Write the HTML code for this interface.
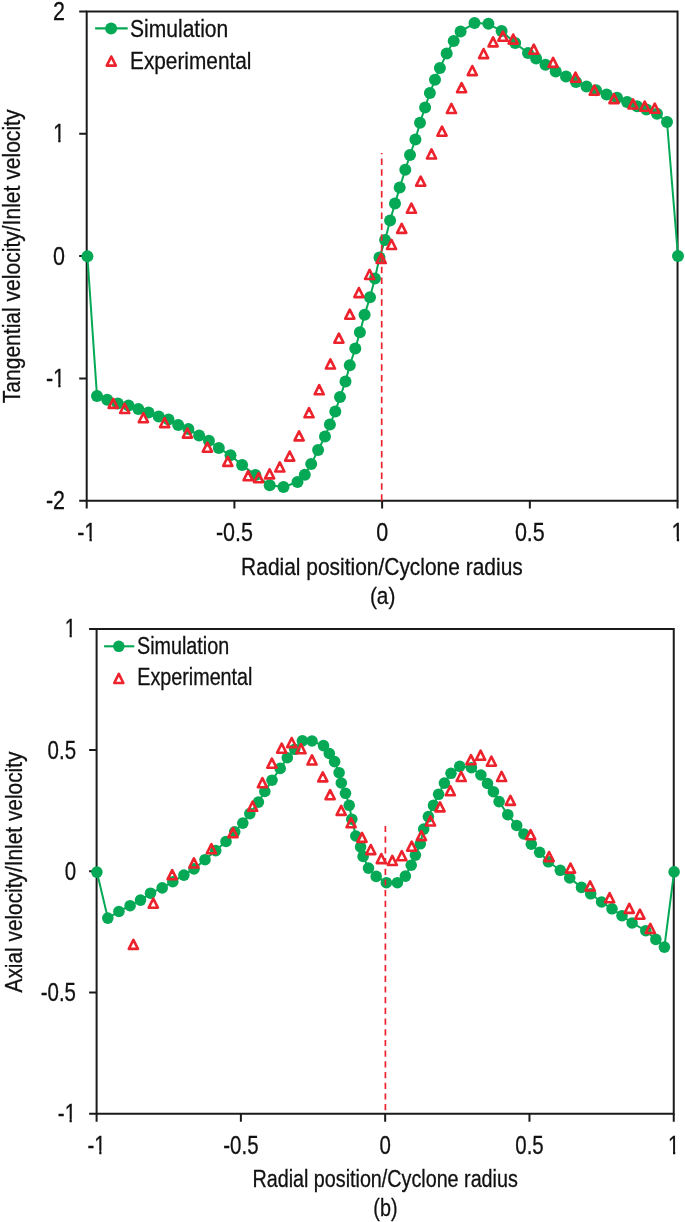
<!DOCTYPE html>
<html><head><meta charset="utf-8"><title>Velocity profiles</title>
<style>
html,body{margin:0;padding:0;background:#fff;}
body{width:685px;height:1222px;overflow:hidden;}
svg{display:block;filter:blur(0.3px);}
text{font-family:"Liberation Sans",Arial,sans-serif;}
</style></head><body>
<svg width="685" height="1222" viewBox="0 0 685 1222">
<rect width="685" height="1222" fill="#fff"/>
<path d="M86.7 11.4H677.55V500.75H86.7Z" fill="none" stroke="#1a1a1a" stroke-width="2"/>
<path d="M79.2 11.4H86.7M79.2 133.74H86.7M79.2 256.07H86.7M79.2 378.41H86.7M79.2 500.75H86.7M86.7 500.75V508.55M234.41 500.75V508.55M382.12 500.75V508.55M529.84 500.75V508.55M677.55 500.75V508.55" stroke="#1a1a1a" stroke-width="2" fill="none"/>
<polyline points="87.4,256.2 97,396.1 107.2,399.7 117.8,403.4 128.5,405.5 138.3,408.9 148.5,412.4 158.7,416.5 168.5,419.4 178.2,424.9 188.4,429 199.1,435.5 208.9,440.7 218.8,448 230.5,455.3 242.1,465.1 255.4,475 269.7,485.3 283.5,487 297.5,482 304.8,474.7 311.2,464.1 318.1,450 325,436.5 329.9,424.6 335.3,411.6 340,397.1 345.5,381.6 349.8,365.2 355.3,348.5 359.9,332.3 364.6,314.8 370,297.3 374.9,278.6 379.5,257.5 385.1,239.9 390.1,220.6 395,203.4 399.7,187.6 405.3,169.8 410,155 415.4,139.5 420,122.7 425.1,107.5 429.9,92.9 435,79.8 439.9,68.1 446.7,53.4 453.7,41 460.6,31.6 474.5,23.1 488.4,23.8 501.6,31.1 515.2,43 528,53.1 536.1,58.4 545.5,64.8 555.7,71.4 566,76.4 576,82 586.5,86.5 596,90.2 606.6,94.4 617,97.8 627.1,102 637.1,106.2 646.4,109.5 657,113.7 667,122 678,256.1" fill="none" stroke="#05A955" stroke-width="2" stroke-linejoin="round"/>
<g fill="#05A955"><circle cx="87.4" cy="256.2" r="6.0"/><circle cx="97" cy="396.1" r="6.0"/><circle cx="107.2" cy="399.7" r="6.0"/><circle cx="117.8" cy="403.4" r="6.0"/><circle cx="128.5" cy="405.5" r="6.0"/><circle cx="138.3" cy="408.9" r="6.0"/><circle cx="148.5" cy="412.4" r="6.0"/><circle cx="158.7" cy="416.5" r="6.0"/><circle cx="168.5" cy="419.4" r="6.0"/><circle cx="178.2" cy="424.9" r="6.0"/><circle cx="188.4" cy="429" r="6.0"/><circle cx="199.1" cy="435.5" r="6.0"/><circle cx="208.9" cy="440.7" r="6.0"/><circle cx="218.8" cy="448" r="6.0"/><circle cx="230.5" cy="455.3" r="6.0"/><circle cx="242.1" cy="465.1" r="6.0"/><circle cx="255.4" cy="475" r="6.0"/><circle cx="269.7" cy="485.3" r="6.0"/><circle cx="283.5" cy="487" r="6.0"/><circle cx="297.5" cy="482" r="6.0"/><circle cx="304.8" cy="474.7" r="6.0"/><circle cx="311.2" cy="464.1" r="6.0"/><circle cx="318.1" cy="450" r="6.0"/><circle cx="325" cy="436.5" r="6.0"/><circle cx="329.9" cy="424.6" r="6.0"/><circle cx="335.3" cy="411.6" r="6.0"/><circle cx="340" cy="397.1" r="6.0"/><circle cx="345.5" cy="381.6" r="6.0"/><circle cx="349.8" cy="365.2" r="6.0"/><circle cx="355.3" cy="348.5" r="6.0"/><circle cx="359.9" cy="332.3" r="6.0"/><circle cx="364.6" cy="314.8" r="6.0"/><circle cx="370" cy="297.3" r="6.0"/><circle cx="374.9" cy="278.6" r="6.0"/><circle cx="379.5" cy="257.5" r="6.0"/><circle cx="385.1" cy="239.9" r="6.0"/><circle cx="390.1" cy="220.6" r="6.0"/><circle cx="395" cy="203.4" r="6.0"/><circle cx="399.7" cy="187.6" r="6.0"/><circle cx="405.3" cy="169.8" r="6.0"/><circle cx="410" cy="155" r="6.0"/><circle cx="415.4" cy="139.5" r="6.0"/><circle cx="420" cy="122.7" r="6.0"/><circle cx="425.1" cy="107.5" r="6.0"/><circle cx="429.9" cy="92.9" r="6.0"/><circle cx="435" cy="79.8" r="6.0"/><circle cx="439.9" cy="68.1" r="6.0"/><circle cx="446.7" cy="53.4" r="6.0"/><circle cx="453.7" cy="41" r="6.0"/><circle cx="460.6" cy="31.6" r="6.0"/><circle cx="474.5" cy="23.1" r="6.0"/><circle cx="488.4" cy="23.8" r="6.0"/><circle cx="501.6" cy="31.1" r="6.0"/><circle cx="515.2" cy="43" r="6.0"/><circle cx="528" cy="53.1" r="6.0"/><circle cx="536.1" cy="58.4" r="6.0"/><circle cx="545.5" cy="64.8" r="6.0"/><circle cx="555.7" cy="71.4" r="6.0"/><circle cx="566" cy="76.4" r="6.0"/><circle cx="576" cy="82" r="6.0"/><circle cx="586.5" cy="86.5" r="6.0"/><circle cx="596" cy="90.2" r="6.0"/><circle cx="606.6" cy="94.4" r="6.0"/><circle cx="617" cy="97.8" r="6.0"/><circle cx="627.1" cy="102" r="6.0"/><circle cx="637.1" cy="106.2" r="6.0"/><circle cx="646.4" cy="109.5" r="6.0"/><circle cx="657" cy="113.7" r="6.0"/><circle cx="667" cy="122" r="6.0"/><circle cx="678" cy="256.1" r="6.0"/></g>
<path d="M113.2 398.8L117.75 407.9L108.65 407.9ZM124.7 403.9L129.25 413L120.15 413ZM143.4 413.1L147.95 422.2L138.85 422.2ZM164.6 418L169.15 427.1L160.05 427.1ZM187.4 428.5L191.95 437.6L182.85 437.6ZM207.4 442.6L211.95 451.7L202.85 451.7ZM227.8 456.8L232.35 465.9L223.25 465.9ZM248.1 471.2L252.65 480.3L243.55 480.3ZM258.6 473.1L263.15 482.2L254.05 482.2ZM269.6 469.3L274.15 478.4L265.05 478.4ZM279.8 462.4L284.35 471.5L275.25 471.5ZM289.7 451.5L294.25 460.6L285.15 460.6ZM299.1 431.3L303.65 440.4L294.55 440.4ZM309 408.2L313.55 417.3L304.45 417.3ZM319.2 385.2L323.75 394.3L314.65 394.3ZM330.4 359.4L334.95 368.5L325.85 368.5ZM338.9 333.6L343.45 342.7L334.35 342.7ZM349.8 309.6L354.35 318.7L345.25 318.7ZM358.9 288L363.45 297.1L354.35 297.1ZM369.6 269.9L374.15 279L365.05 279ZM381.2 253.9L385.75 263L376.65 263ZM391.5 239.9L396.05 249L386.95 249ZM401.7 223.8L406.25 232.9L397.15 232.9ZM411.4 203.7L415.95 212.8L406.85 212.8ZM420.7 176.6L425.25 185.7L416.15 185.7ZM431.5 149.4L436.05 158.5L426.95 158.5ZM442 126.6L446.55 135.7L437.45 135.7ZM451.4 103.9L455.95 113L446.85 113ZM461.6 83.1L466.15 92.2L457.05 92.2ZM472.3 66L476.85 75.1L467.75 75.1ZM483.6 49L488.15 58.1L479.05 58.1ZM493.1 37.3L497.65 46.4L488.55 46.4ZM502.9 31.6L507.45 40.7L498.35 40.7ZM513.2 34.5L517.75 43.6L508.65 43.6ZM533.8 44.7L538.35 53.8L529.25 53.8ZM553.1 57.8L557.65 66.9L548.55 66.9ZM575.5 72.7L580.05 81.8L570.95 81.8ZM594.3 85.6L598.85 94.7L589.75 94.7ZM614 94L618.55 103.1L609.45 103.1ZM633 99.4L637.55 108.5L628.45 108.5ZM644.7 101.6L649.25 110.7L640.15 110.7ZM654.8 103.7L659.35 112.8L650.25 112.8Z" fill="none" stroke="#EC222D" stroke-width="2.6" stroke-linejoin="round"/>
<path d="M381.7 500.7V153" stroke="#EC222D" stroke-width="1.7" stroke-dasharray="6.5 4.33"/>
<path d="M95.1 28.4H127.7" stroke="#05A955" stroke-width="2.1"/>
<circle cx="111.1" cy="28.4" r="6.0" fill="#05A955"/>
<path d="M111.3 56.5L115.85 65.6L106.75 65.6Z" fill="none" stroke="#EC222D" stroke-width="2.6" stroke-linejoin="round"/>
<g fill="#111" stroke="#111" stroke-width="0.3"><g transform="translate(65 19.9) scale(0.827 1)"><text x="-14.46" font-size="26">2</text></g>
<g transform="translate(65 142.24) scale(0.827 1)"><text x="-14.46" font-size="26">1</text><path d="M-13.68 1.5V-3.04H-8.17V1.5ZM-5.37 1.5V-3.04H-0.07V1.5Z" fill="#fff" stroke="none"/></g>
<g transform="translate(65 264.57) scale(0.827 1)"><text x="-14.46" font-size="26">0</text></g>
<g transform="translate(65 386.91) scale(0.827 1)"><text x="-23.12" font-size="26">-1</text><path d="M-13.68 1.5V-3.04H-8.17V1.5ZM-5.37 1.5V-3.04H-0.07V1.5Z" fill="#fff" stroke="none"/></g>
<g transform="translate(65 509.25) scale(0.827 1)"><text x="-23.12" font-size="26">-2</text></g>
<g transform="translate(86.7 540.5) scale(0.827 1)"><text x="-11.56" font-size="26">-1</text><path d="M-2.12 1.5V-3.04H3.39V1.5ZM6.19 1.5V-3.04H11.49V1.5Z" fill="#fff" stroke="none"/></g>
<g transform="translate(234.41 540.5) scale(0.827 1)"><text x="-22.4" font-size="26">-0.5</text></g>
<g transform="translate(382.12 540.5) scale(0.827 1)"><text x="-7.23" font-size="26">0</text></g>
<g transform="translate(529.84 540.5) scale(0.827 1)"><text x="-18.07" font-size="26">0.5</text></g>
<g transform="translate(677.55 540.5) scale(0.827 1)"><text x="-7.23" font-size="26">1</text><path d="M-6.45 1.5V-3.04H-0.94V1.5ZM1.86 1.5V-3.04H7.16V1.5Z" fill="#fff" stroke="none"/></g>
<g transform="translate(382 574.8) scale(0.855 1)"><text x="-164.78" font-size="24.5">Radial position/Cyclone radius</text></g>
<g transform="translate(382.6 604) scale(0.850 1)"><text x="-14.97" font-size="24.5">(a)</text></g>
<g transform="translate(20.2 255.1) rotate(-90) scale(0.860 1)"><text x="-172.27" font-size="24.5">Tangential velocity/Inlet velocity</text></g>
<g transform="translate(130 36.7) scale(0.860 1)"><text x="0" font-size="24.5">Simulation</text></g>
<g transform="translate(130 68.9) scale(0.850 1)"><text x="0" font-size="24.5">Experimental</text></g></g>
<path d="M96.6 628.9H673.75V1113.7H96.6Z" fill="none" stroke="#1a1a1a" stroke-width="2"/>
<path d="M89.1 628.9H96.6M89.1 750.1H96.6M89.1 871.3H96.6M89.1 992.5H96.6M89.1 1113.7H96.6M96.6 1113.7V1121.8M240.89 1113.7V1121.8M385.17 1113.7V1121.8M529.46 1113.7V1121.8M673.75 1113.7V1121.8" stroke="#1a1a1a" stroke-width="2" fill="none"/>
<polyline points="96.9,872.1 107.8,918.1 118.9,911.5 130.1,905.7 140.5,900.1 150.5,893.2 162.2,887.9 172.8,881.7 183.9,875.1 194,868.9 205,859.7 215.7,850.6 226,841.5 234.7,831.8 242.8,823.1 249.8,813.6 258.4,802.1 264.8,791.5 272,780.2 280.2,768.4 287.3,757.7 294.7,749.3 302.4,740.8 312,741 323.5,745.6 329.3,753.5 334.6,761.6 339.1,772.7 341.3,783 345.5,793.3 349.2,805.3 351.8,819.2 355.8,836 360.6,846.9 363.1,856.4 368.5,868.1 376.2,876.4 386.4,882.7 397.4,882.7 405.4,876.1 411.2,865.2 415.4,855.1 420.3,843.8 423.7,829.1 428.4,816.6 433.5,805.4 438.6,794.3 444.4,783.1 451,773.3 459.7,766.3 471.4,767.7 480.9,775 487.5,783.5 493.4,791.7 499.1,801.6 507.8,814.7 516.7,825.5 523.9,834 531.3,844.2 539.6,852.3 548.4,861.8 560.3,870.3 569.7,878 581.5,887.4 590.7,893.8 601.6,902 612,908.8 622,915.7 632.1,923 645.8,930.7 655.8,939.4 664.4,947.1 674.1,871.9" fill="none" stroke="#05A955" stroke-width="2" stroke-linejoin="round"/>
<g fill="#05A955"><circle cx="96.9" cy="872.1" r="5.8"/><circle cx="107.8" cy="918.1" r="5.8"/><circle cx="118.9" cy="911.5" r="5.8"/><circle cx="130.1" cy="905.7" r="5.8"/><circle cx="140.5" cy="900.1" r="5.8"/><circle cx="150.5" cy="893.2" r="5.8"/><circle cx="162.2" cy="887.9" r="5.8"/><circle cx="172.8" cy="881.7" r="5.8"/><circle cx="183.9" cy="875.1" r="5.8"/><circle cx="194" cy="868.9" r="5.8"/><circle cx="205" cy="859.7" r="5.8"/><circle cx="215.7" cy="850.6" r="5.8"/><circle cx="226" cy="841.5" r="5.8"/><circle cx="234.7" cy="831.8" r="5.8"/><circle cx="242.8" cy="823.1" r="5.8"/><circle cx="249.8" cy="813.6" r="5.8"/><circle cx="258.4" cy="802.1" r="5.8"/><circle cx="264.8" cy="791.5" r="5.8"/><circle cx="272" cy="780.2" r="5.8"/><circle cx="280.2" cy="768.4" r="5.8"/><circle cx="287.3" cy="757.7" r="5.8"/><circle cx="294.7" cy="749.3" r="5.8"/><circle cx="302.4" cy="740.8" r="5.8"/><circle cx="312" cy="741" r="5.8"/><circle cx="323.5" cy="745.6" r="5.8"/><circle cx="329.3" cy="753.5" r="5.8"/><circle cx="334.6" cy="761.6" r="5.8"/><circle cx="339.1" cy="772.7" r="5.8"/><circle cx="341.3" cy="783" r="5.8"/><circle cx="345.5" cy="793.3" r="5.8"/><circle cx="349.2" cy="805.3" r="5.8"/><circle cx="351.8" cy="819.2" r="5.8"/><circle cx="355.8" cy="836" r="5.8"/><circle cx="360.6" cy="846.9" r="5.8"/><circle cx="363.1" cy="856.4" r="5.8"/><circle cx="368.5" cy="868.1" r="5.8"/><circle cx="376.2" cy="876.4" r="5.8"/><circle cx="386.4" cy="882.7" r="5.8"/><circle cx="397.4" cy="882.7" r="5.8"/><circle cx="405.4" cy="876.1" r="5.8"/><circle cx="411.2" cy="865.2" r="5.8"/><circle cx="415.4" cy="855.1" r="5.8"/><circle cx="420.3" cy="843.8" r="5.8"/><circle cx="423.7" cy="829.1" r="5.8"/><circle cx="428.4" cy="816.6" r="5.8"/><circle cx="433.5" cy="805.4" r="5.8"/><circle cx="438.6" cy="794.3" r="5.8"/><circle cx="444.4" cy="783.1" r="5.8"/><circle cx="451" cy="773.3" r="5.8"/><circle cx="459.7" cy="766.3" r="5.8"/><circle cx="471.4" cy="767.7" r="5.8"/><circle cx="480.9" cy="775" r="5.8"/><circle cx="487.5" cy="783.5" r="5.8"/><circle cx="493.4" cy="791.7" r="5.8"/><circle cx="499.1" cy="801.6" r="5.8"/><circle cx="507.8" cy="814.7" r="5.8"/><circle cx="516.7" cy="825.5" r="5.8"/><circle cx="523.9" cy="834" r="5.8"/><circle cx="531.3" cy="844.2" r="5.8"/><circle cx="539.6" cy="852.3" r="5.8"/><circle cx="548.4" cy="861.8" r="5.8"/><circle cx="560.3" cy="870.3" r="5.8"/><circle cx="569.7" cy="878" r="5.8"/><circle cx="581.5" cy="887.4" r="5.8"/><circle cx="590.7" cy="893.8" r="5.8"/><circle cx="601.6" cy="902" r="5.8"/><circle cx="612" cy="908.8" r="5.8"/><circle cx="622" cy="915.7" r="5.8"/><circle cx="632.1" cy="923" r="5.8"/><circle cx="645.8" cy="930.7" r="5.8"/><circle cx="655.8" cy="939.4" r="5.8"/><circle cx="664.4" cy="947.1" r="5.8"/><circle cx="674.1" cy="871.9" r="5.8"/></g>
<path d="M133.4 939.8L137.95 948.9L128.85 948.9ZM153.3 898.6L157.85 907.7L148.75 907.7ZM172.2 870.1L176.75 879.2L167.65 879.2ZM193.9 858.4L198.45 867.5L189.35 867.5ZM211.4 844.2L215.95 853.3L206.85 853.3ZM233 828.1L237.55 837.2L228.45 837.2ZM252.6 801.7L257.15 810.8L248.05 810.8ZM262.4 778.2L266.95 787.3L257.85 787.3ZM271.9 758.6L276.45 767.7L267.35 767.7ZM281.7 743.6L286.25 752.7L277.15 752.7ZM291.7 738L296.25 747.1L287.15 747.1ZM301 744.2L305.55 753.3L296.45 753.3ZM312 755.4L316.55 764.5L307.45 764.5ZM322.8 772.3L327.35 781.4L318.25 781.4ZM330.1 790.1L334.65 799.2L325.55 799.2ZM341.2 805.8L345.75 814.9L336.65 814.9ZM351.1 818.2L355.65 827.3L346.55 827.3ZM362 832.8L366.55 841.9L357.45 841.9ZM370.8 845L375.35 854.1L366.25 854.1ZM381.3 854L385.85 863.1L376.75 863.1ZM392.3 855.9L396.85 865L387.75 865ZM401.8 851.1L406.35 860.2L397.25 860.2ZM411.7 841.6L416.25 850.7L407.15 850.7ZM421.4 831L425.95 840.1L416.85 840.1ZM430.5 816.4L435.05 825.5L425.95 825.5ZM440 802.3L444.55 811.4L435.45 811.4ZM450.3 786.2L454.85 795.3L445.75 795.3ZM461.2 771.9L465.75 781L456.65 781ZM471 755.1L475.55 764.2L466.45 764.2ZM480.6 750.7L485.15 759.8L476.05 759.8ZM491.4 756.6L495.95 765.7L486.85 765.7ZM501.6 771.9L506.15 781L497.05 781ZM510.4 795.8L514.95 804.9L505.85 804.9ZM530.6 830.1L535.15 839.2L526.05 839.2ZM549.1 852L553.65 861.1L544.55 861.1ZM570.5 863.5L575.05 872.6L565.95 872.6ZM590.1 881.4L594.65 890.5L585.55 890.5ZM609.6 893.2L614.15 902.3L605.05 902.3ZM629.3 903.8L633.85 912.9L624.75 912.9ZM639.9 909.6L644.45 918.7L635.35 918.7ZM650.3 923.9L654.85 933L645.75 933Z" fill="none" stroke="#EC222D" stroke-width="2.6" stroke-linejoin="round"/>
<path d="M385.4 825.9V1110.6" stroke="#EC222D" stroke-width="1.7" stroke-dasharray="6.2 4.5"/>
<path d="M104.1 646.3H134.3" stroke="#05A955" stroke-width="2.1"/>
<circle cx="118.8" cy="646.3" r="5.8" fill="#05A955"/>
<path d="M118.8 673.9L123.35 683L114.25 683Z" fill="none" stroke="#EC222D" stroke-width="2.6" stroke-linejoin="round"/>
<g fill="#111" stroke="#111" stroke-width="0.3"><g transform="translate(76 637.3) scale(0.802 1)"><text x="-14.18" font-size="25.5">1</text><path d="M-13.44 1.5V-3.01H-8.02V1.5ZM-5.27 1.5V-3.01H-0.05V1.5Z" fill="#fff" stroke="none"/></g>
<g transform="translate(76 758.5) scale(0.802 1)"><text x="-35.45" font-size="25.5">0.5</text></g>
<g transform="translate(76 879.7) scale(0.802 1)"><text x="-14.18" font-size="25.5">0</text></g>
<g transform="translate(76 1000.9) scale(0.802 1)"><text x="-43.94" font-size="25.5">-0.5</text></g>
<g transform="translate(76 1122.1) scale(0.802 1)"><text x="-22.67" font-size="25.5">-1</text><path d="M-13.44 1.5V-3.01H-8.02V1.5ZM-5.27 1.5V-3.01H-0.05V1.5Z" fill="#fff" stroke="none"/></g>
<g transform="translate(96.6 1153.6) scale(0.802 1)"><text x="-11.34" font-size="25.5">-1</text><path d="M-2.1 1.5V-3.01H3.32V1.5ZM6.07 1.5V-3.01H11.29V1.5Z" fill="#fff" stroke="none"/></g>
<g transform="translate(240.89 1153.6) scale(0.802 1)"><text x="-21.97" font-size="25.5">-0.5</text></g>
<g transform="translate(385.17 1153.6) scale(0.802 1)"><text x="-7.09" font-size="25.5">0</text></g>
<g transform="translate(529.46 1153.6) scale(0.802 1)"><text x="-17.72" font-size="25.5">0.5</text></g>
<g transform="translate(673.75 1153.6) scale(0.802 1)"><text x="-7.09" font-size="25.5">1</text><path d="M-6.35 1.5V-3.01H-0.93V1.5ZM1.83 1.5V-3.01H7.05V1.5Z" fill="#fff" stroke="none"/></g>
<g transform="translate(385.2 1186.7) scale(0.840 1)"><text x="-158.06" font-size="23.5">Radial position/Cyclone radius</text></g>
<g transform="translate(385.4 1215.8) scale(0.840 1)"><text x="-14.36" font-size="23.5">(b)</text></g>
<g transform="translate(21.8 872) rotate(-90) scale(0.887 1)"><text x="-135.83" font-size="23.5">Axial velocity/Inlet velocity</text></g>
<g transform="translate(137 653.9) scale(0.840 1)"><text x="0" font-size="23.5">Simulation</text></g>
<g transform="translate(137.3 685.2) scale(0.840 1)"><text x="0" font-size="23.5">Experimental</text></g></g>
</svg>
</body></html>
